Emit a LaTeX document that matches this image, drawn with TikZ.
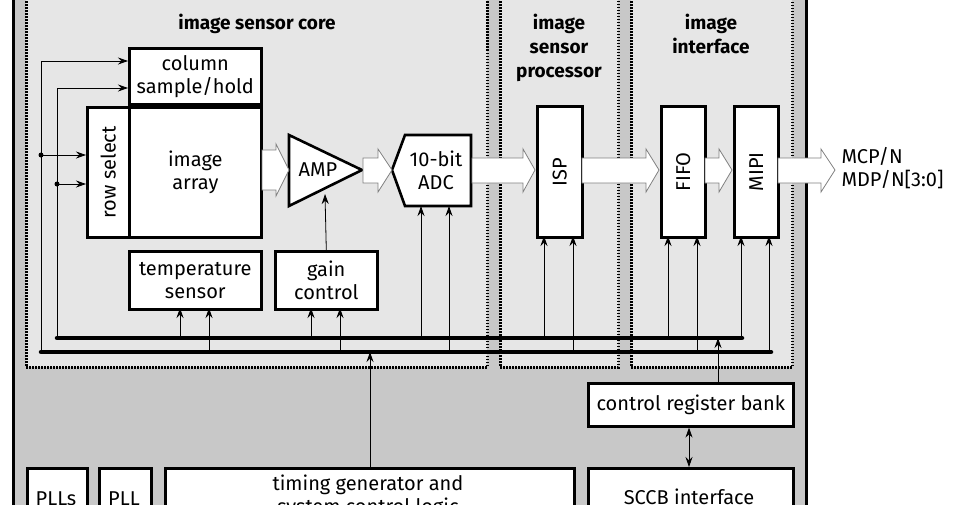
\documentclass[tikz,border=0pt]{standalone}
\usepackage{fontspec}
\setmainfont{Fira Sans}
\usetikzlibrary{arrows.meta}
\definecolor{chip}{HTML}{C8C8C8}
\definecolor{reg}{HTML}{E6E6E6}
\begin{document}
\begin{tikzpicture}[x=1pt,y=-1pt,
  box/.style={draw,line width=2.6pt,fill=white,anchor=north west,inner sep=0pt,align=center,font=\fontsize{20}{23}\selectfont},
  region/.style={draw,line width=3pt,dash pattern=on 1.5pt off 1.5pt,fill=reg},
  ttl/.style={font=\fontsize{19}{24}\selectfont\bfseries,align=center,anchor=north},
  txt/.style={font=\fontsize{20}{23}\selectfont},
  sig/.style={line width=0.8pt,-{Stealth[length=10pt,width=7pt]}},
  bus/.style={line width=4.5pt,line cap=round},
  hol/.style={draw=gray,fill=white,line width=0.8pt}]
\useasboundingbox (0,0) rectangle (961,504);
\clip (0,0) rectangle (961,504);
% chip
\draw[line width=3pt,fill=chip] (13,-10) rectangle (806,520);
% regions
\draw[region] (26,-5) rectangle (487,367);
\draw[region] (500,-5) rectangle (618,367);
\draw[region] (631,-5) rectangle (792,367);
\node[ttl] (t1) at (257,11) {image sensor core};
\node[ttl] (t2) at (559,11) {image\\sensor\\processor};
\node[ttl] (t3) at (711,11) {image\\interface};
% boxes
\node[box,minimum width=132pt,minimum height=56pt] (col) at (128,47) {column\\sample/hold};
\node[box,minimum width=42pt,minimum height=130pt] (row) at (86,106) {\rotatebox{90}{row select}};
\node[box,minimum width=132pt,minimum height=130pt] (arr) at (128,106) {image\\array};
\node[box,minimum width=132pt,minimum height=58pt] (temp) at (128,250) {temperature\\sensor};
\node[box,minimum width=102pt,minimum height=58pt] (gain) at (274,250) {gain\\control};
\node[box,minimum width=45pt,minimum height=131pt] (isp) at (536,105) {\rotatebox{90}{ISP}};
\node[box,minimum width=44pt,minimum height=131pt] (fifo) at (660,105) {\rotatebox{90}{FIFO}};
\node[box,minimum width=44pt,minimum height=131pt] (mipi) at (733,105) {\rotatebox{90}{MIPI}};
\node[box,minimum width=205pt,minimum height=43pt] (crb) at (587,382) {control register bank};
\node[box,minimum width=205pt,minimum height=60pt] (sccb) at (587,467) {};
\node[txt] (sccbt) at (689,497) {SCCB interface};
\node[box,minimum width=60pt,minimum height=60pt] (plls) at (26,467) {};
\node[txt] (pllst) at (56,499) {PLLs};
\node[box,minimum width=52pt,minimum height=60pt] (pll) at (98,467) {};
\node[txt] (pllt) at (124,499) {PLL};
\node[box,minimum width=409pt,minimum height=60pt] (tg) at (164,467) {};
\node[txt,align=center,anchor=north] (tgt) at (368,471) {timing generator and\\system control logic};
% AMP and ADC
\draw[line width=2.6pt,fill=white] (289,135) -- (289,206) -- (362,170) -- cycle;
\node[txt] (amp) at (318,170) {AMP};
\draw[line width=2.6pt,fill=white] (392,170) -- (405,135) -- (471,135) -- (471,206) -- (405,206) -- cycle;
\node[txt,align=center] (adc) at (436,170) {10-bit\\ADC};
% hollow arrows
\draw[hol] (262,150) -- (276,150) -- (276,144) -- (289,170) -- (276,196) -- (276,190) -- (262,190) -- cycle;
\draw[hol] (363,158) -- (378,158) -- (378,149) -- (392,170) -- (378,192) -- (378,183) -- (363,183) -- cycle;
\draw[hol] (472,158) -- (523,158) -- (523,149) -- (535,170) -- (523,192) -- (523,183) -- (472,183) -- cycle;
\draw[hol] (582,158) -- (646,158) -- (646,149) -- (659,170) -- (646,192) -- (646,183) -- (582,183) -- cycle;
\draw[hol] (705,158) -- (719,158) -- (719,149) -- (732,170) -- (719,192) -- (719,183) -- (705,183) -- cycle;
\draw[hol] (778,158) -- (821,158) -- (821,149) -- (835,170) -- (821,192) -- (821,183) -- (778,183) -- cycle;
\node[txt,align=left,anchor=west] (out) at (838,168) {MCP/N\\MDP/N[3:0]};
% left control lines
\coordinate (a1) at (41,61); \coordinate (a2) at (57,88);
\draw[line width=0.8pt] (41,352) -- (a1);
\draw[line width=0.8pt] (57,338) -- (a2);
\draw[sig] (a1) -- (col.west |- a1);
\draw[sig] (a2) -- (col.west |- a2);
\fill (41,155) circle (2.5pt); \fill (57,184) circle (2.5pt);
\draw[sig] (41,155) -- (row.west |- 0,155);
\draw[sig] (57,184) -- (row.west |- 0,184);
% buses
\draw[bus] (57,338) -- (742,338);
\draw[bus] (41,352) -- (771,352);
% bus taps
\foreach \x/\y/\t in {180/338/308,209/352/308,311/338/308,340/352/308,421/338/206,449/352/206,544/338/236,573/352/236,668/338/236,697/352/236,741/338/236,769/352/236}
  \draw[sig] (\x,\y) -- (\x,\t);
\draw[sig] (gain.north) -- (325,194);
\draw[sig] (tg.north -| 370,0) -- (370,352);
\draw[sig] (crb.north -| 718,0) -- (718,338);
\draw[line width=0.8pt,{Stealth[length=10pt,width=7pt]}-{Stealth[length=10pt,width=7pt]}] (crb.south -| 689,0) -- (sccb.north -| 689,0);
\end{tikzpicture}
\end{document}
